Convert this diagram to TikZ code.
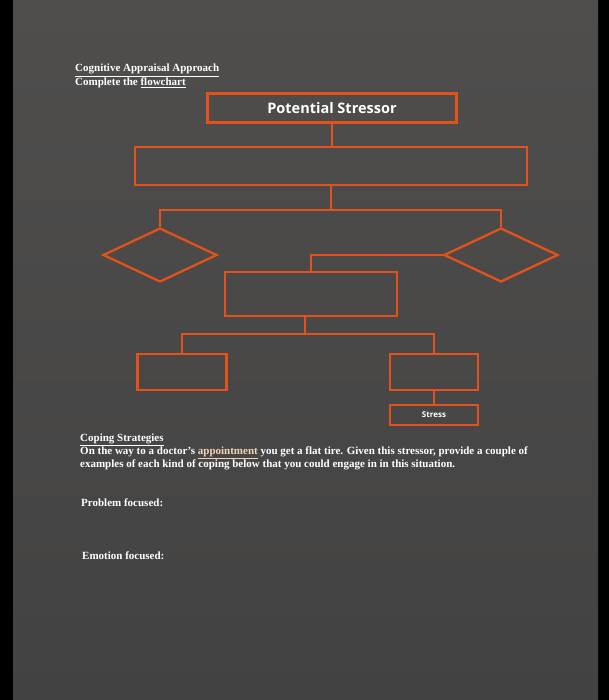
\documentclass[tikz,border=0pt]{standalone}
\usepackage{fontspec}
\setmainfont{Liberation Serif}
\setsansfont{Open Sans}
\usetikzlibrary{positioning,shapes.geometric}
\definecolor{screentop}{HTML}{4F4E4D}
\definecolor{screenbot}{HTML}{434242}
\definecolor{flowline}{HTML}{E4521B}
\definecolor{linkpeach}{HTML}{F3D2B0}
\tikzset{
  flow box/.style={rectangle,draw=flowline,line width=2.3pt,inner sep=0pt},
  flow diamond/.style={diamond,draw=flowline,line width=2.3pt,inner sep=0pt,minimum width=114pt,minimum height=54pt},
  flow line/.style={draw=flowline,line width=2.3pt},
  sheet text/.style={text=white,font=\bfseries\fontsize{11}{13}\selectfont,anchor=base west,inner sep=0pt},
}

\begin{document}
\begin{tikzpicture}[x=1pt, y=-1pt]
    % screen
    \fill[black] (0,0) rectangle (609,700);
    \fill[top color=screentop, bottom color=screenbot] (13,0) rectangle (598,700);
    \useasboundingbox (0,0) rectangle (609,700);

    % heading
    \node[sheet text] (title) at (75,72) {\underline{Cognitive Appraisal Approach}};
    \node[sheet text] (task) at (75,86) {Complete the \underline{flowchart}};

    % flowchart
    \node[flow box, minimum width=249pt, minimum height=29pt, font=\sffamily\bfseries\fontsize{14.5}{16}\selectfont, text=white] (stressor) at (332,108) {Potential Stressor};
    \node[flow box, minimum width=392pt, minimum height=38pt] (appraisal) at (331,166) {};
    \node[flow diamond] (leftdia) at (160,255) {};
    \node[flow diamond] (rightdia) at (501,255) {};
    \node[flow box, minimum width=172pt, minimum height=44pt] (middle) at (311,294) {};
    \node[flow box, minimum width=89pt, minimum height=36pt] (leftbox) at (182,372) {};
    \node[flow box, minimum width=88pt, minimum height=36pt] (rightbox) at (434,372) {};
    \node[flow box, minimum width=88pt, minimum height=20pt, font=\sffamily\bfseries\fontsize{8}{9}\selectfont, text=white] (stress) at (434,415) {Stress};

    \coordinate (split) at (331,210);
    \coordinate (fork) at (305,334);

    \path[flow line]
    (stressor.south) -- (stressor.south |- appraisal.north)
    (appraisal.south) -- (split)
    (split) -| (leftdia.north)
    (split) -| (rightdia.north)
    (rightdia.west) -| (middle.north)
    (middle.south -| fork) -- (fork)
    (fork) -| (leftbox.north)
    (fork) -| (rightbox.north)
    (rightbox.south) -- (stress.north);

    % coping text
    \node[sheet text] (coping) at (80,441) {\underline{Coping Strategies}};
    \node[sheet text] (lineone) at (80,454) {On the way to a doctor's \textcolor{linkpeach}{\underline{appointment}} you get a flat tire. Given this stressor, provide a couple of};
    \node[sheet text] (linetwo) at (80,467) {examples of each kind of coping below that you could engage in in this situation.};
    \node[sheet text] (problem) at (81,506) {Problem focused:};
    \node[sheet text] (emotion) at (82,559) {Emotion focused:};
\end{tikzpicture}
\end{document}
